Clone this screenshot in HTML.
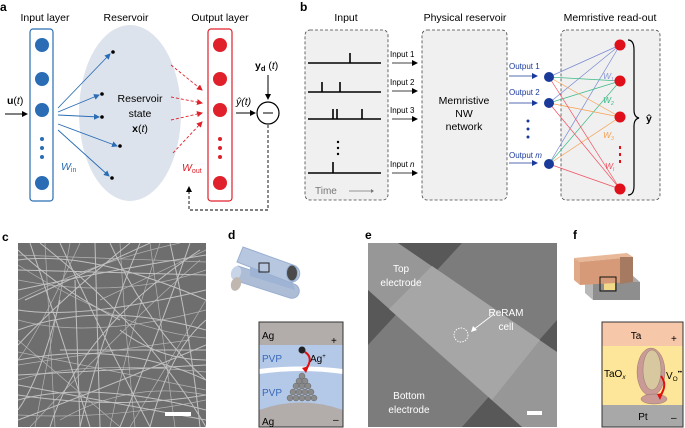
<!DOCTYPE html>
<html><head><meta charset="utf-8"><style>
html,body{margin:0;padding:0;background:#fff;}
svg{display:block;font-family:"Liberation Sans",sans-serif;}
</style></head><body>
<svg width="685" height="428" viewBox="0 0 685 428" xmlns="http://www.w3.org/2000/svg">
<defs>
<marker id="ab" markerWidth="6" markerHeight="6" refX="5" refY="3" orient="auto" markerUnits="userSpaceOnUse"><path d="M0,0 L6,3 L0,6 z" fill="#2a6db5"/></marker>
<marker id="ak" markerWidth="6" markerHeight="6" refX="5" refY="3" orient="auto" markerUnits="userSpaceOnUse"><path d="M0,0 L6,3 L0,6 z" fill="#000"/></marker>
<marker id="ar" markerWidth="6" markerHeight="6" refX="5" refY="3" orient="auto" markerUnits="userSpaceOnUse"><path d="M0,0 L6,3 L0,6 z" fill="#e0202a"/></marker>
<marker id="an" markerWidth="6" markerHeight="6" refX="5" refY="3" orient="auto" markerUnits="userSpaceOnUse"><path d="M0,0 L6,3 L0,6 z" fill="#1a3a9a"/></marker>
<clipPath id="cc"><rect x="18" y="243" width="188" height="184"/></clipPath>
<clipPath id="ce"><rect x="368" y="243" width="189" height="184"/></clipPath>
</defs>

<!-- panel a -->
<text x="0" y="11" font-size="12" font-weight="bold">a</text>
<text x="45" y="21" font-size="10.5" text-anchor="middle">Input layer</text>
<text x="126" y="21" font-size="10.5" text-anchor="middle">Reservoir</text>
<text x="220" y="21" font-size="10.5" text-anchor="middle">Output layer</text>
<ellipse cx="130" cy="113" rx="51" ry="88" fill="#dde3ec"/>
<rect x="30" y="29" width="23" height="172" rx="3" fill="#fff" stroke="#2a6db5" stroke-width="1.2"/>
<g fill="#2a6db5"><circle cx="42" cy="45" r="7"/><circle cx="42" cy="79" r="7"/><circle cx="42" cy="110" r="7"/><circle cx="42" cy="183" r="7"/><circle cx="42" cy="139" r="2"/><circle cx="42" cy="148" r="2"/><circle cx="42" cy="157" r="2"/></g>
<rect x="208" y="29" width="24" height="172" rx="3" fill="#fff" stroke="#e0202a" stroke-width="1.2"/>
<g fill="#e0202a"><circle cx="220" cy="45" r="7"/><circle cx="220" cy="79" r="7"/><circle cx="220" cy="110" r="7"/><circle cx="220" cy="183" r="7"/><circle cx="220" cy="139" r="2"/><circle cx="220" cy="148" r="2"/><circle cx="220" cy="157" r="2"/></g>
<line x1="5" y1="114" x2="27" y2="114" stroke="#000" marker-end="url(#ak)"/>
<text x="7" y="104" font-size="10.5"><tspan font-weight="bold">u</tspan>(<tspan font-style="italic">t</tspan>)</text>
<g stroke="#2a6db5" stroke-width="0.9" marker-end="url(#ab)">
<line x1="58" y1="108" x2="110" y2="54"/><line x1="58" y1="112" x2="99" y2="95"/><line x1="58" y1="115" x2="99" y2="117"/><line x1="58" y1="124" x2="117" y2="146"/><line x1="58" y1="130" x2="109" y2="176"/></g>
<g fill="#000"><circle cx="113" cy="52" r="1.8"/><circle cx="102" cy="94" r="1.8"/><circle cx="102" cy="117" r="1.8"/><circle cx="120" cy="146" r="1.8"/><circle cx="112" cy="178" r="1.8"/></g>
<text x="140" y="102" font-size="10.5" text-anchor="middle">Reservoir</text>
<text x="140" y="117" font-size="10.5" text-anchor="middle">state</text>
<text x="140" y="132" font-size="10.5" text-anchor="middle"><tspan font-weight="bold">x</tspan>(<tspan font-style="italic">t</tspan>)</text>
<text x="61" y="170" font-size="10.5" fill="#2a6db5" font-style="italic">W<tspan font-size="7" font-style="normal" dy="2">in</tspan></text>
<g stroke="#e0202a" stroke-width="0.9" stroke-dasharray="3,2" marker-end="url(#ar)">
<line x1="171" y1="65" x2="202" y2="90"/><line x1="171" y1="97" x2="202" y2="103"/><line x1="171" y1="120" x2="202" y2="113"/><line x1="173" y1="153" x2="202" y2="122"/></g>
<text x="182" y="171" font-size="10.5" fill="#e0202a" font-style="italic">W<tspan font-size="7" font-style="normal" dy="2">out</tspan></text>
<line x1="236" y1="113" x2="255" y2="113" stroke="#000" marker-end="url(#ak)"/>
<text x="236" y="105" font-size="10.5" font-style="italic">ŷ(t)</text>
<text x="255" y="69" font-size="10.5"><tspan font-weight="bold">y<tspan font-size="7.5" dy="2">d</tspan></tspan><tspan dy="-2"> (</tspan><tspan font-style="italic">t</tspan>)</text>
<line x1="268" y1="75" x2="268" y2="99" stroke="#000" marker-end="url(#ak)"/>
<circle cx="268" cy="113" r="11" fill="#fff" stroke="#000" stroke-width="1.2"/>
<line x1="263" y1="113" x2="273" y2="113" stroke="#000"/>
<path d="M268,125 V210 H189 V187" fill="none" stroke="#000" stroke-width="0.9" stroke-dasharray="3,2" marker-end="url(#ak)"/>

<!-- panel b -->
<text x="300" y="11" font-size="12" font-weight="bold">b</text>
<text x="346" y="21" font-size="10.5" text-anchor="middle">Input</text>
<text x="465" y="21" font-size="10.5" text-anchor="middle">Physical reservoir</text>
<text x="610" y="21" font-size="10.5" text-anchor="middle">Memristive read-out</text>
<g fill="#f0f0f0" stroke="#444" stroke-width="0.8" stroke-dasharray="3,2">
<rect x="305" y="30" width="83" height="170" rx="5"/><rect x="422" y="30" width="85" height="170" rx="5"/><rect x="561" y="30" width="99" height="170" rx="5"/></g>
<g stroke="#000" stroke-width="1.6" fill="none">
<path d="M308,63 H350 V53 V63 H381"/><path d="M308,92 H322 V82 V92 H340 V82 V92 H381"/>
<path d="M308,119 H333 V109 V119 H337 V109 V119 H362 V109 V119 H381"/><path d="M308,173 H333 V162 V173 H381"/></g>
<g fill="#000"><circle cx="338" cy="142" r="1.2"/><circle cx="338" cy="148" r="1.2"/><circle cx="338" cy="154" r="1.2"/></g>
<text x="315" y="194" font-size="10" fill="#777">Time</text>
<line x1="349" y1="191" x2="371" y2="191" stroke="#777" stroke-width="0.8"/><path d="M371,189 L374,191 L371,193z" fill="#777"/>
<g font-size="8">
<text x="390" y="57">Input 1</text><text x="390" y="85">Input 2</text><text x="390" y="113">Input 3</text><text x="390" y="167">Input <tspan font-style="italic">n</tspan></text></g>
<g stroke="#000" stroke-width="0.8" marker-end="url(#ak)">
<line x1="392" y1="63" x2="417" y2="63"/><line x1="392" y1="91" x2="417" y2="91"/><line x1="392" y1="119" x2="417" y2="119"/><line x1="392" y1="173" x2="417" y2="173"/></g>
<text x="464" y="104" font-size="10.5" text-anchor="middle">Memristive</text>
<text x="464" y="117" font-size="10.5" text-anchor="middle">NW</text>
<text x="464" y="130" font-size="10.5" text-anchor="middle">network</text>
<g font-size="8" fill="#1a3a9a"><text x="509" y="69">Output 1</text><text x="509" y="95">Output 2</text><text x="509" y="158">Output <tspan font-style="italic">m</tspan></text></g>
<g stroke="#1a3a9a" stroke-width="0.8" marker-end="url(#an)">
<line x1="509" y1="76" x2="537" y2="76"/><line x1="509" y1="103" x2="537" y2="103"/><line x1="509" y1="163" x2="537" y2="163"/></g>
<g fill="#1a3a9a"><circle cx="528" cy="121" r="1.5"/><circle cx="528" cy="129" r="1.5"/><circle cx="528" cy="137" r="1.5"/></g>
<g stroke-width="0.7">
<g stroke="#7788d0"><line x1="549" y1="77" x2="620" y2="45"/><line x1="549" y1="103" x2="620" y2="45"/><line x1="549" y1="164" x2="620" y2="45"/></g>
<g stroke="#3dbb88"><line x1="549" y1="77" x2="620" y2="81"/><line x1="549" y1="103" x2="620" y2="81"/><line x1="549" y1="164" x2="620" y2="81"/></g>
<g stroke="#f7a050"><line x1="549" y1="77" x2="620" y2="117"/><line x1="549" y1="103" x2="620" y2="117"/><line x1="549" y1="164" x2="620" y2="117"/></g>
<g stroke="#f05060"><line x1="549" y1="77" x2="620" y2="189"/><line x1="549" y1="103" x2="620" y2="189"/><line x1="549" y1="164" x2="620" y2="189"/></g></g>
<g fill="#1a3a9a"><circle cx="549" cy="77" r="5"/><circle cx="549" cy="103" r="5"/><circle cx="549" cy="164" r="5"/></g>
<g fill="#e0101a"><circle cx="620" cy="45" r="5.5"/><circle cx="620" cy="81" r="5.5"/><circle cx="620" cy="117" r="5.5"/><circle cx="620" cy="189" r="5.5"/><rect x="619" y="146" width="2" height="3"/><rect x="619" y="153" width="2" height="3"/><rect x="619" y="160" width="2" height="3"/></g>
<g font-size="8.5" font-style="italic"><text x="603" y="79" fill="#8898d8">W<tspan font-size="5" dy="2">1</tspan></text><text x="603" y="103" fill="#3dbb88">W<tspan font-size="5" dy="2">2</tspan></text><text x="603" y="138" fill="#f7a050">W<tspan font-size="5" dy="2">3</tspan></text><text x="605" y="169" fill="#f05060">W<tspan font-size="5" dy="2">l</tspan></text></g>
<path d="M628,40 Q634,40 634,50 V110 Q634,117 639,118 Q634,119 634,126 V186 Q634,195 628,195" fill="none" stroke="#000" stroke-width="1.2"/>
<text x="646" y="122" font-size="10.5" font-weight="bold">ŷ</text>

<!-- panel c -->
<text x="2" y="241" font-size="12" font-weight="bold">c</text>
<rect x="18" y="243" width="188" height="184" fill="#6e6e6e"/>
<g clip-path="url(#cc)" stroke="#cfcfcf" stroke-width="1" fill="none" opacity="0.85">
<path d="M18,260 Q90,250 206,300"/><path d="M18,290 Q110,270 206,255"/><path d="M30,243 Q60,330 90,427"/><path d="M60,243 Q100,330 150,427"/>
<path d="M18,330 Q100,300 206,330"/><path d="M18,360 Q120,340 206,380"/><path d="M18,400 Q90,380 206,410"/><path d="M110,243 Q150,330 206,380"/>
<path d="M140,243 Q100,340 80,427"/><path d="M190,243 Q160,330 120,427"/><path d="M18,420 Q100,390 206,345"/><path d="M18,310 Q80,320 206,290"/>
<path d="M95,243 L100,427"/><path d="M75,280 L80,427"/><path d="M18,375 L206,365"/><path d="M40,243 Q150,330 206,427"/>
<path d="M18,345 Q60,300 130,243"/><path d="M170,243 Q190,330 200,427"/><path d="M18,270 L206,275"/><path d="M18,395 Q120,410 206,395"/>
<path d="M50,427 Q80,330 200,250"/><path d="M18,250 Q60,290 120,320"/><path d="M120,330 Q160,360 206,360"/><path d="M18,410 Q40,380 60,300"/>
<path d="M150,427 Q170,350 206,320"/><path d="M25,300 L150,243"/><path d="M18,385 L206,420"/><path d="M60,350 L206,350"/></g>
<g clip-path="url(#cc)" stroke="#c4c4c4" stroke-width="0.7" fill="none" opacity="0.8">
<path d="M18,280 Q120,300 206,270"/><path d="M18,320 Q90,340 206,310"/><path d="M18,352 L206,390"/><path d="M18,380 Q80,360 206,372"/>
<path d="M45,243 L55,427"/><path d="M120,243 Q125,330 135,427"/><path d="M160,243 Q130,330 110,427"/><path d="M200,260 Q120,330 30,427"/>
<path d="M18,265 Q120,330 206,338"/><path d="M18,415 Q110,420 206,400"/><path d="M80,243 Q40,330 18,360"/><path d="M18,300 Q100,260 180,243"/>
<path d="M100,300 L206,250"/><path d="M18,340 L120,427"/><path d="M60,420 Q130,380 206,395"/><path d="M130,427 L206,300"/>
<path d="M18,255 L206,262"/><path d="M150,243 L175,427"/><path d="M35,427 L70,243"/><path d="M18,365 Q100,352 190,340"/></g>
<rect x="165" y="412" width="26" height="4" fill="#fff"/>

<!-- panel d -->
<text x="228" y="239" font-size="12" font-weight="bold">d</text>
<g>
<path d="M234,280 L290,298 A7,7 0 0 0 294,284 L238,266 z" fill="#aebdd6" stroke="#9ab0d0"/>
<ellipse cx="236" cy="273" rx="5" ry="7" fill="#c8d4e8" transform="rotate(18 236 273)"/>
<path d="M250,260 L291,277 L295,290 L250,276 z" fill="#9fb3d4"/>
<path d="M243,247 L293,265 A8,8 0 0 1 289,282 L237,262 z" fill="#b8c7e0" stroke="#9ab0d0"/>
<ellipse cx="292" cy="273" rx="5.5" ry="8" fill="#4a4a4a" stroke="#9ab0d0"/>
<ellipse cx="236" cy="284" rx="5" ry="7" fill="#c0b8b0" transform="rotate(18 236 284)"/>
<rect x="259" y="263" width="10" height="9" fill="none" stroke="#222" stroke-width="1"/>
</g>
<rect x="259" y="322" width="84" height="105" fill="#b4c8e8"/>
<rect x="259" y="322" width="84" height="23" fill="#b2acab"/>
<path d="M259,374 Q301,368 343,374 L343,369 Q301,364 259,369z" fill="#fff"/>
<path d="M259,410 Q301,395 343,410 V427 H259z" fill="#b2acab"/>
<rect x="259" y="322" width="84" height="105" fill="none" stroke="#333" stroke-width="1"/>
<g font-size="10"><text x="262" y="339">Ag</text><text x="262" y="425">Ag</text><text x="331" y="344">+</text><text x="333" y="423">–</text><text x="310" y="362">Ag<tspan font-size="6" dy="-4">+</tspan></text></g>
<g font-size="10" fill="#3a6ab8"><text x="262" y="362">PVP</text><text x="262" y="396">PVP</text></g>
<circle cx="302" cy="350" r="3.5" fill="#222"/>
<path d="M305,352 Q314,358 306,369" fill="none" stroke="#e01010" stroke-width="2"/><path d="M302,368 L306,373 L309,366z" fill="#e01010"/>
<g fill="#8a8a8a" stroke="#555" stroke-width="0.4">
<circle cx="302" cy="376" r="3"/><circle cx="299" cy="381" r="3"/><circle cx="305" cy="381" r="3"/><circle cx="296" cy="386" r="3"/><circle cx="302" cy="386" r="3"/><circle cx="308" cy="386" r="3"/>
<circle cx="293" cy="392" r="3"/><circle cx="299" cy="392" r="3"/><circle cx="305" cy="392" r="3"/><circle cx="311" cy="392" r="3"/>
<circle cx="290" cy="398" r="3"/><circle cx="296" cy="398" r="3"/><circle cx="302" cy="398" r="3"/><circle cx="308" cy="398" r="3"/><circle cx="314" cy="398" r="3"/></g>

<!-- panel e -->
<text x="365" y="239" font-size="12" font-weight="bold">e</text>
<rect x="368" y="243" width="189" height="184" fill="#585858"/>
<g clip-path="url(#ce)">
<polygon points="368,345 462,243 557,243 557,320 462,427 368,427" fill="#7c7c7c"/>
<polygon points="368,243 398,243 557,352 557,427 522,427 368,290" fill="#979797"/>
<polygon points="432,266 540,340 492,400 389,309" fill="#a6a6a6"/>
</g>
<g font-size="10" fill="#fff" text-anchor="middle"><text x="401" y="272">Top</text><text x="401" y="286">electrode</text>
<text x="506" y="316">ReRAM</text><text x="506" y="330">cell</text>
<text x="409" y="399">Bottom</text><text x="409" y="413">electrode</text></g>
<line x1="494" y1="314" x2="473" y2="330" stroke="#fff" stroke-width="0.9"/><path d="M471,332 L473,326 L477,330z" fill="#fff"/>
<circle cx="461" cy="335" r="7" fill="none" stroke="#fff" stroke-width="0.9" stroke-dasharray="1.5,1.2"/>
<rect x="527" y="411" width="15" height="4" fill="#fff"/>

<!-- panel f -->
<text x="573" y="239" font-size="12" font-weight="bold">f</text>
<polygon points="585,275 632,275 640,282 593,282" fill="#aaa"/>
<polygon points="593,282 640,282 640,300 593,300" fill="#8e8e8e"/>
<polygon points="585,275 593,282 593,300 585,293" fill="#b8b8b8"/>
<polygon points="604,278 615,278 615,290 604,290" fill="#f2d98a"/>
<polygon points="574,258 627,253 633,257 580,262" fill="#e8b898"/>
<polygon points="580,262 633,257 633,282 580,285" fill="#d69a78"/>
<polygon points="620,257 633,257 633,282 620,284" fill="#a57a60"/>
<polygon points="574,258 580,262 580,285 574,280" fill="#e0aa88"/>
<rect x="600" y="277" width="16" height="14" fill="none" stroke="#111" stroke-width="1"/>
<rect x="602" y="322" width="81" height="105" fill="#fde59a"/>
<rect x="602" y="322" width="81" height="24" fill="#f6c7a8"/>
<rect x="602" y="405" width="81" height="22" fill="#a8a8a8"/>
<rect x="602" y="322" width="81" height="105" fill="none" stroke="#333" stroke-width="1"/>
<g font-size="10"><text x="636" y="339" text-anchor="middle">Ta</text><text x="643" y="420" text-anchor="middle">Pt</text><text x="671" y="342">+</text><text x="671" y="421">–</text>
<text x="604" y="377">TaO<tspan font-size="6.5" font-style="italic" dy="2">x</tspan></text><text x="666" y="379">V<tspan font-size="6.5" dy="2">O</tspan><tspan font-size="6" dy="-7">••</tspan></text></g>
<g stroke="#6a5050" stroke-width="0.3">
<ellipse cx="651" cy="372" rx="14" ry="24" fill="#c99a96"/>
<ellipse cx="652" cy="370" rx="9" ry="20" fill="#d8c8a0"/>
<ellipse cx="654" cy="399" rx="13" ry="5" fill="#c99a96"/></g>
<path d="M661,376 Q668,385 660,396" fill="none" stroke="#e01010" stroke-width="2"/><path d="M657,394 L660,400 L663,393z" fill="#e01010"/>
</svg>
</body></html>
